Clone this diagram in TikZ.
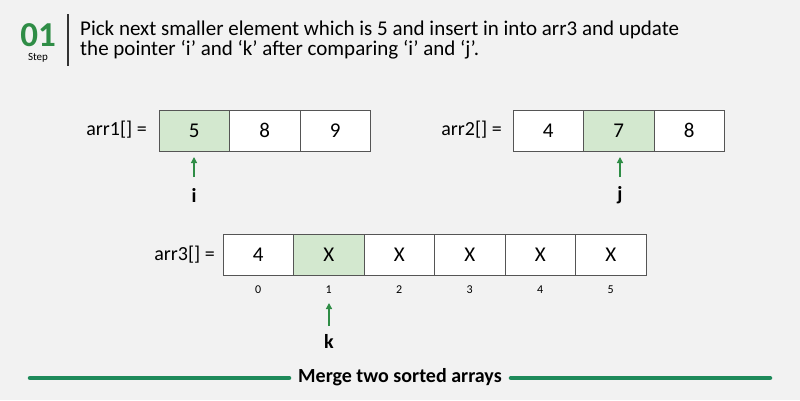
\documentclass[tikz,border=0pt]{standalone}
\usepackage{fontspec}
\setmainfont{Carlito}
\newfontfamily\calfont{Carlito}
\usetikzlibrary{arrows.meta}
\definecolor{bg}{HTML}{F2F2F2}
\definecolor{gfg}{HTML}{2F8D46}
\definecolor{bar}{HTML}{1E8A5A}
\definecolor{lgreen}{HTML}{D3E8CF}
\definecolor{bord}{HTML}{555555}
\tikzset{
  cell/.style={draw=bord, line width=0.9pt, minimum width=70.5pt, minimum height=41pt, inner sep=0pt, outer sep=0pt, anchor=west, font=\calfont\fontsize{21}{21}\selectfont, fill=white},
  hcell/.style={cell, fill=lgreen},
  lbl/.style={font=\calfont\fontsize{20}{20}\selectfont, anchor=east, inner sep=0pt},
  idx/.style={font=\calfont\fontsize{12}{12}\selectfont, inner sep=0pt},
  ptr/.style={draw=gfg, line width=1.3pt, -{Triangle[length=6pt,width=6pt]}},
  ptrl/.style={font=\calfont\bfseries\fontsize{20}{20}\selectfont, inner sep=0pt},
  barline/.style={draw=bar, line width=4.5pt, line cap=round}
}
\begin{document}
\begin{tikzpicture}[x=1pt,y=-1pt]
\fill[bg] (0,0) rectangle (800,400);
\useasboundingbox (0,0) rectangle (800,400);
% header
\node[font=\bfseries\fontsize{35}{35}\selectfont, text=gfg, inner sep=0pt, text height=24pt, text depth=0pt, anchor=base] (num) at (38,46) {01};
\node[font=\fontsize{11}{11}\selectfont, inner sep=0pt, anchor=north] (step) at (38,53.5) {Step};
\draw[line width=1.2pt, draw=black!80] (68,14) -- (68,66);
\node[anchor=west, align=left, inner sep=0pt, font=\fontsize{21}{18.5}\selectfont] (title) at (80,40) {Pick next smaller element which is 5 and insert in into arr3 and update\\the pointer ‘i’ and ‘k’ after comparing ‘i’ and ‘j’.};
% arr1
\node[lbl] (l1) at (147,130) {arr1[] =};
\node[hcell] (a0) at (159,130.5) {5};
\node[cell] (a1) at (a0.east) {8};
\node[cell] (a2) at (a1.east) {9};
% arr2
\node[lbl] (l2) at (502,130) {arr2[] =};
\node[cell] (b0) at (513,130.5) {4};
\node[hcell] (b1) at (b0.east) {7};
\node[cell] (b2) at (b1.east) {8};
% arr3
\node[lbl] (l3) at (215,255) {arr3[] =};
\node[cell] (c0) at (223,255) {4};
\node[hcell] (c1) at (c0.east) {X};
\node[cell] (c2) at (c1.east) {X};
\node[cell] (c3) at (c2.east) {X};
\node[cell] (c4) at (c3.east) {X};
\node[cell] (c5) at (c4.east) {X};
\foreach \k in {0,...,5}{
  \node[idx] (i\k) at ([yshift=-14pt]c\k.south) {\k};
}
% pointers
\node[ptrl] (pi) at (194,195) {i};
\coordinate (pis) at (194,177);
\coordinate (pit) at (194,157);
\draw[ptr] (pis) -- (pit);
\node[ptrl] (pj) at (620,195) {j};
\coordinate (pjs) at (620,177);
\coordinate (pjt) at (620,157);
\draw[ptr] (pjs) -- (pjt);
\node[ptrl] (pk) at (329,341) {k};
\coordinate (pks) at (329,326);
\coordinate (pkt) at (329,303);
\draw[ptr] (pks) -- (pkt);
% footer
\node[font=\bfseries\fontsize{20}{20}\selectfont, inner sep=0pt] (foot) at (400,377) {Merge two sorted arrays};
\coordinate (fl) at (30,378);
\coordinate (fr) at (770,378);
\draw[barline] (fl) -- ([xshift=-9pt]foot.west |- fl);
\draw[barline] ([xshift=9pt]foot.east |- fr) -- (fr);
\end{tikzpicture}
\end{document}
